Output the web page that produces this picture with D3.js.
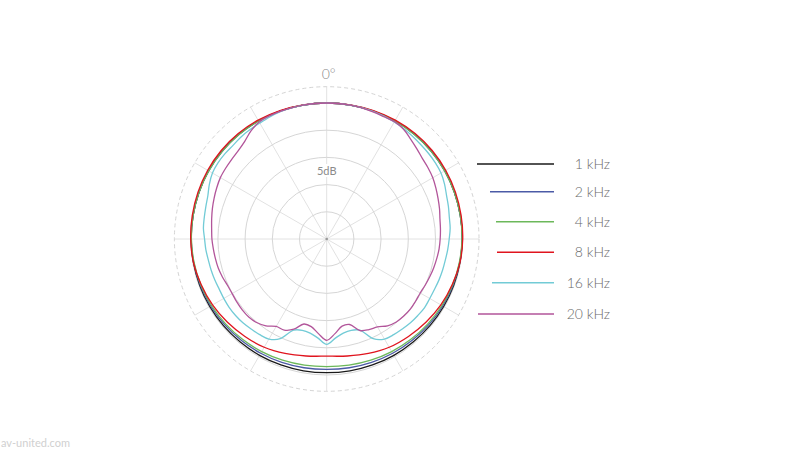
<!DOCTYPE html>
<html>
<head>
<meta charset="utf-8">
<script src="https://cdn.jsdelivr.net/npm/d3@7"></script>
<style>
  html, body { margin: 0; padding: 0; background: #fff; }
  svg { display: block; }
  text { font-family: "Lato", "Open Sans", sans-serif; }
</style>
</head>
<body>
<svg id="chart" width="800" height="451"></svg>
<script>
// ---------- data (dB relative to on-axis, angle clockwise from 0° at top) ----------
const angles10 = [0,10,20,30,40,50,60,70,80,90,100,110,120,130,140,150,160,170,180,
                  190,200,210,220,230,240,250,260,270,280,290,300,310,320,330,340,350];
const angles5 = [0,5,10,15,20,25,30,35,40,45,50,55,60,65,70,75,80,85,90,95,100,105,110,115,120,125,130,135,140,145,150,155,160,165,170,175,
                 180,185,190,195,200,205,210,215,220,225,230,235,240,245,250,255,260,265,270,275,280,285,290,295,300,305,310,315,320,325,330,335,340,345,350,355];

const db1k = [0,0,0.04,0.09,0.13,0.13,0.09,0,-0.06,-0.09,-0.13,-0.15,-0.18,-0.22,-0.28,-0.31,-0.37,-0.40,-0.42,
              -0.40,-0.37,-0.31,-0.28,-0.22,-0.18,-0.15,-0.13,-0.09,-0.06,0,0.09,0.13,0.13,0.09,0.04,0];
const db2k = [0,0,0.04,0.09,0.11,0.09,0.06,0,-0.06,-0.09,-0.18,-0.26,-0.37,-0.50,-0.63,-0.74,-0.86,-0.97,-1.03,
              -0.97,-0.86,-0.74,-0.63,-0.50,-0.37,-0.26,-0.18,-0.09,-0.06,0,0.06,0.09,0.11,0.09,0.04,0];
const db4k = [0,0,0.02,0.06,0.07,0.07,0.04,-0.02,-0.07,-0.13,-0.24,-0.37,-0.55,-0.74,-0.92,-1.10,-1.29,-1.45,-1.54,
              -1.45,-1.29,-1.10,-0.92,-0.74,-0.55,-0.37,-0.24,-0.13,-0.07,-0.02,0.04,0.07,0.07,0.06,0.02,0];
const db8k = [0,0.04,0.11,0.22,0.29,0.31,0.26,0.18,0.09,0,-0.13,-0.46,-0.77,-1.19,-1.62,-2.02,-2.61,-3.16,-3.46,
              -3.16,-2.61,-2.02,-1.62,-1.19,-0.77,-0.46,-0.13,0,0.09,0.18,0.26,0.31,0.29,0.22,0.11,0.04];
const db16k = [0,0,0,0,-0.04,-0.09,-0.18,-0.28,-0.40,-0.51,-0.55,-0.61,-0.74,-1.10,-1.56,-1.84,-2.11,-2.22,-2.48,-2.67,-2.85,-2.94,-3.03,-3.13,-3.13,-3.03,-3.13,-3.22,-3.40,-3.53,-3.77,-4.78,-7.17,-7.63,-7.44,-6.71,
               -5.64,-6.71,-7.44,-7.63,-7.17,-4.78,-3.77,-3.53,-3.40,-3.22,-3.13,-3.10,-3.15,-3.20,-3.10,-3.00,-2.90,-2.70,-2.55,-2.25,-2.15,-2.00,-1.75,-1.20,-0.75,-0.60,-0.60,-0.65,-0.50,-0.45,-0.40,-0.25,-0.10,-0.03,0,0];
const db20k = [0,0,0,-0.04,-0.13,-0.18,-0.09,-0.37,-1.01,-1.56,-2.02,-2.24,-2.48,-2.85,-3.22,-3.53,-3.86,-4.01,-4.14,-4.26,-4.45,-4.63,-4.82,-5.00,-5.15,-5.06,-4.93,-4.96,-5.09,-5.51,-6.34,-6.62,-7.08,-8.73,-8.73,-7.54,
               -6.38,-7.54,-8.64,-8.82,-7.35,-6.53,-6.43,-5.51,-4.96,-4.73,-4.73,-4.82,-4.93,-4.87,-4.60,-4.36,-4.23,-4.08,-3.90,-3.77,-3.53,-3.25,-2.98,-2.70,-2.43,-2.32,-2.21,-2.02,-1.56,-0.74,-0.18,-0.04,-0.04,-0.04,0,0];

const seriesNames = ["1 kHz","2 kHz","4 kHz","8 kHz","16 kHz","20 kHz"];
const seriesColors = ["#1a1a1a","#4b5aa6","#6cb85a","#e0141e","#72cbd6","#b2559a"];
const seriesAngles = [angles10, angles10, angles10, angles10, angles5, angles5];
const seriesValues = [db1k, db2k, db4k, db8k, db16k, db20k];

const ringDb = [-20,-15,-10,-5,0];
const outerDb = 3;
const spokeAngles = [0,30,60,90,120,150,180,210,240,270,300,330];
const ringLabel = "5dB";
const topLabel = "0°";

// ---------- layout ----------
const svg = d3.select("#chart");
const cx = 326.7, cy = 239;
const r = d3.scaleLinear().domain([-25, 0]).range([0, 136]);
const toRad = d => d * Math.PI / 180;

const g = svg.append("g").attr("transform", `translate(${cx},${cy})`);

// spokes
g.selectAll("line.spoke").data(spokeAngles).join("line")
  .attr("class","spoke")
  .attr("x1", 0).attr("y1", 0)
  .attr("x2", a => r(outerDb) * Math.sin(toRad(a)))
  .attr("y2", a => -r(outerDb) * Math.cos(toRad(a)))
  .attr("stroke", "#e2e2e2").attr("stroke-width", 1);

// rings
g.selectAll("circle.ring").data(ringDb).join("circle")
  .attr("class","ring")
  .attr("r", d => r(d))
  .attr("fill","none").attr("stroke","#d6d6d6").attr("stroke-width",1);

// outer dashed ring
g.append("circle").attr("r", r(outerDb))
  .attr("fill","none").attr("stroke","#d4d4d4").attr("stroke-width",1)
  .attr("stroke-dasharray","4,3");

// center dot
g.append("circle").attr("r",1.3).attr("fill","#999");

// ring label with white background
const lblY = -(r(-15) + r(-10)) / 2;
g.append("rect").attr("x",-12).attr("y",lblY-7).attr("width",24).attr("height",13).attr("fill","#fff");
g.append("text").attr("x",0).attr("y",lblY).attr("dy","0.35em")
  .attr("text-anchor","middle").attr("font-size",11).attr("fill","#8a8a8a").text(ringLabel);

// top label
svg.append("text").attr("x", cx + 2).attr("y", 74).attr("dy","0.35em")
  .attr("text-anchor","middle").attr("font-size",14).attr("font-weight",300).attr("fill","#888").text(topLabel);

// curves
const radial = d3.lineRadial()
  .angle(d => toRad(d[0]))
  .radius(d => r(d[1]))
  .curve(d3.curveCatmullRomClosed.alpha(0.5));

seriesValues.forEach((vals, i) => {
  const pts = seriesAngles[i].map((a, k) => [a, vals[k]]);
  g.append("path").attr("d", radial(pts))
    .attr("fill","none").attr("stroke", seriesColors[i]).attr("stroke-width", 1.3);
});

// legend
const legendY = [164, 191.7, 221.7, 252.3, 282.7, 314];
const legendX1 = [477, 490, 496, 497, 492, 478];
const lg = svg.append("g");
seriesNames.forEach((name, i) => {
  lg.append("line").attr("x1", legendX1[i]).attr("x2", 554)
    .attr("y1", legendY[i]).attr("y2", legendY[i])
    .attr("stroke", seriesColors[i]).attr("stroke-width", 1.5);
  lg.append("text").attr("x", 610).attr("y", legendY[i]).attr("dy","0.35em")
    .attr("text-anchor","end").attr("font-size",14).attr("font-weight",300)
    .attr("fill","#6a6a6a").text(name);
});

// watermark
svg.append("text").attr("x",1).attr("y",447).attr("font-size",11)
  .attr("fill","#d0d0d0").text("av-united.com");
</script>
</body>
</html>
